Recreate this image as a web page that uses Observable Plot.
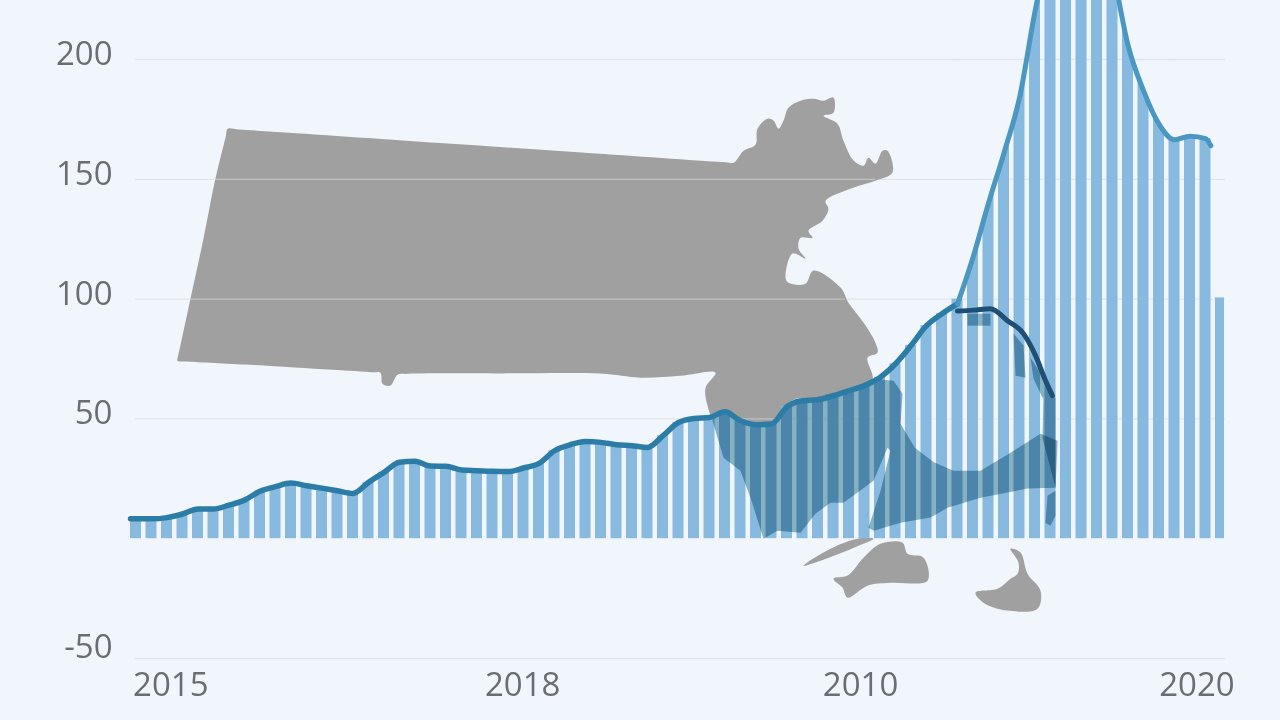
<!DOCTYPE html>
<html><head><meta charset="utf-8">
<script src="https://cdn.jsdelivr.net/npm/d3@7"></script>
<script src="https://cdn.jsdelivr.net/npm/@observablehq/plot@0.6"></script>
<style>html,body{margin:0;padding:0;background:#f1f6fc;overflow:hidden}</style>
</head><body><div id="chart"></div>
<script>
const lineValues = [8.3,8.3,8.8,10.3,12.4,12.4,14,16.1,19.8,21.7,23.2,22.1,21.1,20,18.9,23.5,27.7,31.9,32.3,30.3,
 30.2,28.7,28.4,28.1,28,29.5,31.4,36.7,39.2,40.6,40.2,39.2,38.8,38.1,43,48.5,50.2,50.6,53,49.2,47.6,
 47.9,55.1,57.6,58,59.7,61.8,63.9,67.3,73,80.6,88.9,93.9,98,117.4,140,161,184,220,250,270,280,265,238,206,187,173,166.5,168,167];
const barValues = [8.3,8.3,8.8,10.3,12.4,12.4,14,16.1,19.8,21.7,23.2,22.1,21.1,20,18.9,23.5,27.7,31.9,32.3,30.3,
 30.2,28.7,28.4,28.1,28,29.5,31.4,36.7,39.2,40.6,40.2,39.2,38.8,38.1,43,48.5,50.2,50.6,53,49.2,47.6,
 47.9,55.1,57.6,58,59.7,61.8,63.9,67.3,73,80.6,88.9,93.9,100,126,152,172,203,240,250,270,280,265,250,222,195,178,166.5,168,167,100.5];
const lineEnd = 164;
const gridValues = [200,150,100,50,-50];
const yTicks = [200,150,100,50];
const yTicksLow = [-50];
const xTickPositions = [2.6,25.3,47.1,68.8];
const xLabels = ["2015","2018","2010","2020"];

const mainlandX = [6.26,6.15,5.48,4.7,3.87,3.2,3.06,3.03,3.8,8,13,15.6,16.13,16.26,16.77,17.23,17.9,24,30.32,32.9,35.48,37.74,37.1,37.23,37.55,38.39,39.35,40.19,41.48,42.13,42.9,43.87,45.81,47.1,47.87,47.55,48.19,48.06,47.29,46.32,45.81,44.06,43.55,42.45,42.26,42.71,43.55,43.1,43.23,44,43.74,44.65,45.03,44.84,46.45,48.06,49.16,48.84,48.52,48.06,47.61,47.29,46.65,46,45.61,44.71,45.35,45.35,44.71,44.06,43.23,42.45,42.13,41.81,41.48,41.1,40.45,40.32,39.55,39.16,38.9,38.4,30,20,10,7];
const mainlandY = [171.1,168,150.3,125,100.2,80,76,74.3,73.9,72.5,70.5,69.5,69.3,64.7,63.9,68.4,68.8,69,68.9,67.2,68,69.3,63,55.5,50.9,52.6,50.1,47.6,47.2,53.4,58.4,58.4,61.8,64.3,66.8,75.5,77.6,81.8,90.2,98.5,104.8,111.9,106.4,106.8,108.9,119,116.9,121,125.6,125.6,128.5,132.7,137.7,141,146.1,149.4,152.8,161.9,161.9,156.5,159,155.7,157.8,166.1,173.2,176.5,177.8,184.1,182.8,183.6,182.8,179.9,174.5,171.1,174.5,175.3,171.1,164.4,161.9,158.6,156.9,157.1,160.8,165.1,169.5,170.8];
const sliverX = [43.42,45.16,46.9,47.94,46.97,44.52];
const sliverY = [-11.3,-4.2,0,0,-2.9,-9.2];
const vineyardX = [45.35,46.26,47.29,48.39,49.81,50.13,51.16,51.42,49.03,47.55,46.26,45.94];
const vineyardY = [-16.7,-15.4,-7.9,-2.1,-1.7,-6.3,-7.9,-17.5,-18.4,-19.6,-24.6,-20.5];
const nantucketX = [54.52,55.94,56.77,57.23,57.29,56.77,57.42,57.87,58.71,58.52,56.58,55.03];
const nantucketY = [-22.5,-20.9,-16.7,-14.6,-10,-4.2,-5.8,-14.6,-21.7,-29.2,-30,-26.7];
const capeX = [37.55,38.26,39.35,40,40.84,41.74,43.23,44.19,45.16,46,47.94,48.84,49.03,48.39,47.61,47.94,49.68,51.61,52.71,54.84,57.87,59.68,59.81,58.71,56.8,54.84,53.1,51.8,50.6,49.68,49.81,49.23,47.87,47.1,45.81,43.87,42.9,42.13,41.48,40.19,39.35,38.39,37.55];
const capeY = [49.2,33.8,28.4,17.1,0,3.3,2.5,10.4,15,15,24.2,38,36.7,20,4.6,3.3,6.7,8.8,12.9,17.1,20.9,21.3,40.9,43.8,36,28.4,28.4,32,38,48,60.5,65.9,66.8,64.3,61.8,58.4,58.4,53.4,47.2,47.6,50.1,52.6,50.9];
const armStripX = [58.9,59.68,59.68,58.84];
const armStripY = [58.8,58.8,21.3,42];
const armPatch1X = [54,55.48,55.48,54];
const armPatch1Y = [93.9,93.9,88.9,88.9];
const armPatch2X = [56.97,57.61,57.74,57.1];
const armPatch2Y = [85.6,80.6,67.2,68];
const armPatch3X = [58.06,59.03,59.55,58.84,58.26];
const armPatch3Y = [75.5,66,58.8,58.8,66.8];
const armTipX = [59.16,59.68,59.68,59.35,59.03];
const armTipY = [17.9,20,9.6,5.4,6.7];
const armLineX = [53.35,54.4,55.48,56.58,57.61,58.39,59.03,59.48];
const armLineY = [95,95.4,96,91,85.6,76.4,66,59.7];

const shape = (name, xs, ys) => xs.map((x, i) => ({name, x, y: ys[i]}));
const grayShapes = [
  ...shape("mainland", mainlandX, mainlandY), ...shape("sliver", sliverX, sliverY),
  ...shape("vineyard", vineyardX, vineyardY), ...shape("nantucket", nantucketX, nantucketY)
];
const underShapes = [
  ...shape("cape", capeX, capeY), ...shape("strip", armStripX, armStripY),
  ...shape("p1", armPatch1X, armPatch1Y), ...shape("p2", armPatch2X, armPatch2Y),
  ...shape("p3", armPatch3X, armPatch3Y), ...shape("tip", armTipX, armTipY)
];
const xEnd = 70.645, lastBarEnd = 70.58, barSpan = 0.71, mid = barSpan / 2, bg = "#f1f6fc";
const series = lineValues.map((v, i) => ({x: i + mid, y: v}));
const linePts = [{x: 0, y: lineValues[0]}, ...series, {x: 69.7, y: lineEnd}];
const mapRules = [{y: 150, x1: 5.48, x2: 48.06}, {y: 100, x1: 3.87, x2: 46.13}, {y: 50, x1: 37.4, x2: 59.8}];
const maskRules = [{y: 200, x1: 53.3, x2: 57.8}, {y: 200, x1: 64.7, x2: 67.4}, {y: 150, x1: 53.3, x2: 55.8}];
const maskPts = linePts.filter(d => d.x >= 53.3 && d.x <= 67.4);

const chart = Plot.plot({
  width: 1280, height: 720,
  marginLeft: 130, marginRight: 55, marginTop: 59, marginBottom: 62,
  style: {background: "transparent", fontFamily: "'Open Sans',sans-serif", fontSize: "33px", color: "#6a6e72"},
  x: {domain: [0, xEnd], range: [130, 1225]},
  y: {domain: [-50, 200], range: [658, 59]},
  marks: [
    Plot.ruleY(gridValues, {x1: 0.32, x2: xEnd, stroke: "#e1e5ea", strokeWidth: 1.3}),
    Plot.line(grayShapes, {x: "x", y: "y", z: "name", fill: "#a0a0a0", stroke: "none", curve: "catmull-rom-closed"}),
    Plot.ruleY(mapRules, {y: "y", x1: "x1", x2: "x2", stroke: "#fff", strokeOpacity: 0.35, strokeWidth: 1.3}),
    Plot.rect(barValues, {x1: (d, i) => i, x2: (d, i) => Math.min(i + barSpan, lastBarEnd), y1: 0, y2: d => d, fill: "#88b9df"}),
    Plot.areaY(maskPts, {x: "x", y1: "y", y2: 240, fill: bg, curve: "monotone-x"}),
    Plot.ruleY(maskRules, {y: "y", x1: "x1", x2: "x2", stroke: "#e1e5ea", strokeWidth: 1.3}),
    Plot.line(underShapes, {x: "x", y: "y", z: "name", fill: "#8eb8c4", stroke: "none", mixBlendMode: "multiply"}),
    Plot.line(linePts.filter(d => d.x <= 53.4), {x: "x", y: "y", stroke: "#2b7da8", strokeWidth: 5.5, curve: "monotone-x"}),
    Plot.line(linePts.filter(d => d.x >= 53.3), {x: "x", y: "y", stroke: "#4b97c1", strokeWidth: 5, curve: "monotone-x"}),
    Plot.line(shape("arm", armLineX, armLineY), {x: "x", y: "y", stroke: "#1f4f74", strokeWidth: 5, curve: "monotone-x"}),
    Plot.axisY(yTicks, {tickSize: 0, tickPadding: 18, dy: -5, label: null}),
    Plot.axisY(yTicksLow, {tickSize: 0, tickPadding: 18, dy: -11, label: null, tickFormat: d => String(d)}),
    Plot.axisX(xTickPositions, {tickSize: 0, tickPadding: 14, label: null, tickFormat: d => xLabels[xTickPositions.indexOf(d)]})
  ]
});
document.getElementById("chart").append(chart);
</script></body></html>
